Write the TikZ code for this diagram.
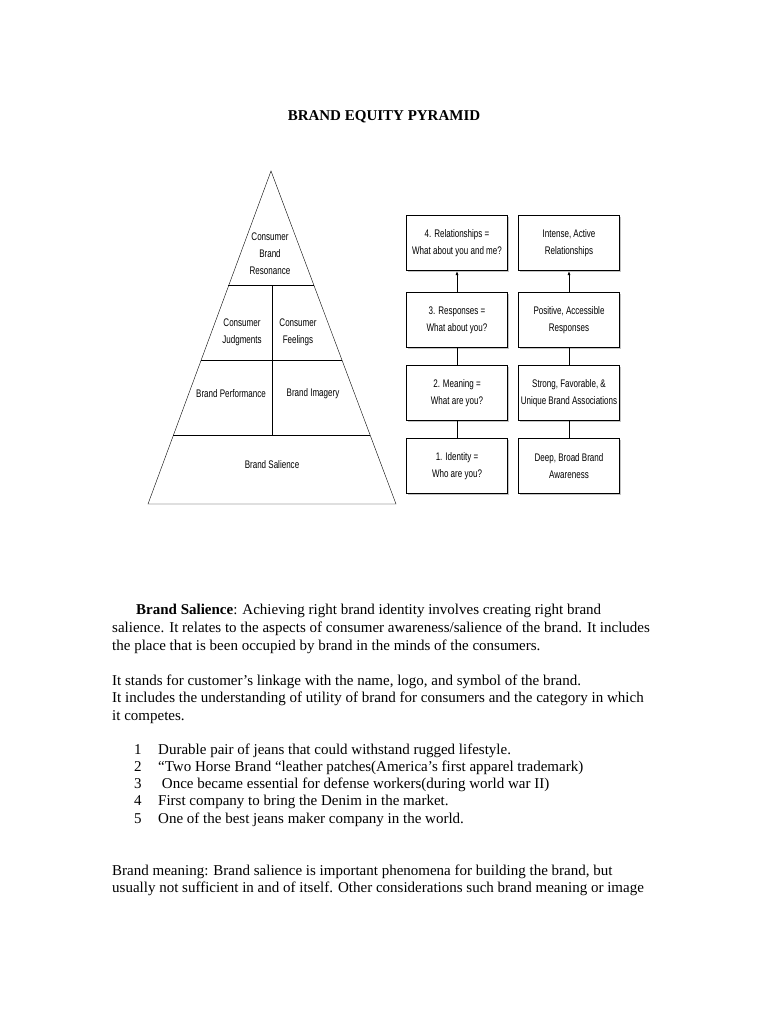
\documentclass[tikz,border=0pt]{standalone}
\usepackage{fontspec}
\setmainfont{Liberation Serif}
\newfontfamily\narrowsf[FakeStretch=0.73]{Liberation Sans}
\usetikzlibrary{shadows,arrows.meta}

\begin{document}
\begin{tikzpicture}[x=1pt, y=-1pt,
    every node/.style={inner sep=0pt},
    lbl/.style={font=\narrowsf\fontsize{11}{17}\selectfont, align=center},
    level/.style={draw, line width=1pt, fill=white, minimum width=101pt, minimum height=55pt,
        font=\narrowsf\fontsize{11}{17}\selectfont, align=center,
        drop shadow={shadow xshift=1.2pt, shadow yshift=-1.2pt, fill=black!45}},
    bodyline/.style={font=\fontsize{15}{17}\selectfont, anchor=base west}]
    \useasboundingbox (0,0) rectangle (768,1024);

    \node[font=\bfseries\fontsize{15}{17}\selectfont] (title) at (384,117) {BRAND EQUITY PYRAMID};

    % pyramid
    \coordinate (apex) at (271,171);
    \coordinate (bl) at (148,504);
    \coordinate (br) at (396,504);
    \draw (apex) -- (bl) -- (br) -- cycle;
    \draw (228,285) -- (314,285);
    \draw (201,360) -- (342,360);
    \draw (173,435) -- (370,435);
    \draw (272,285) -- (272,435);

    \node[lbl] (reson) at (270,254) {Consumer\\Brand\\Resonance};
    \node[lbl] (judg) at (242,332) {Consumer\\Judgments};
    \node[lbl] (feel) at (298,332) {Consumer\\Feelings};
    \node[lbl] (perf) at (231,394) {Brand Performance};
    \node[lbl] (imag) at (313,394) {Brand Imagery};
    \node[lbl] (sal) at (272,465) {Brand Salience};

    % steps and objectives
    \node[level] (rel) at (457,243) {4. Relationships =\\What about you and me?};
    \node[level] (resp) at (457,320) {3. Responses =\\What about you?};
    \node[level] (mean) at (457,393) {2. Meaning =\\What are you?};
    \node[level] (iden) at (457,466) {1. Identity =\\Who are you?};
    \node[level] (act) at (569,243) {Intense, Active\\Relationships};
    \node[level] (acc) at (569,320) {Positive, Accessible\\Responses};
    \node[level] (assoc) at (569,393) {Strong, Favorable, \&\\Unique Brand Associations};
    \node[level] (aware) at (569,466) {Deep, Broad Brand\\Awareness};

    \draw[line width=1pt, -{Latex[length=4pt,width=3pt]}] (resp) -- (rel);
    \draw[line width=1pt] (mean) -- (resp);
    \draw[line width=1pt] (iden) -- (mean);
    \draw[line width=1pt, -{Latex[length=4pt,width=3pt]}] (acc) -- (act);
    \draw[line width=1pt] (assoc) -- (acc);
    \draw[line width=1pt] (aware) -- (assoc);

    % text
    \node[bodyline] (p1a) at (136,614) {\textbf{Brand Salience}: Achieving right brand identity involves creating right brand};
    \node[bodyline] (p1b) at (112,632) {salience. It relates to the aspects of consumer awareness/salience of the brand. It includes};
    \node[bodyline] (p1c) at (112,650) {the place that is been occupied by brand in the minds of the consumers.};
    \node[bodyline] (p2a) at (112,685) {It stands for customer’s linkage with the name, logo, and symbol of the brand.};
    \node[bodyline] (p2b) at (112,702) {It includes the understanding of utility of brand for consumers and the category in which};
    \node[bodyline] (p2c) at (112,720) {it competes.};

    \foreach \txt [count=\i] in {{Durable pair of jeans that could withstand rugged lifestyle.},
        {“Two Horse Brand “leather patches(America’s first apparel trademark)},
        {\ Once became essential for defense workers(during world war II)},
        {First company to bring the Denim in the market.},
        {One of the best jeans maker company in the world.}} {
        \node[bodyline] (num\i) at (134,{754+17.3*(\i-1)}) {\i};
        \node[bodyline] (item\i) at (158,{754+17.3*(\i-1)}) {\txt};
    }

    \node[bodyline] (p3a) at (112,875) {Brand meaning: Brand salience is important phenomena for building the brand, but};
    \node[bodyline] (p3b) at (112,892) {usually not sufficient in and of itself. Other considerations such brand meaning or image};
\end{tikzpicture}
\end{document}
